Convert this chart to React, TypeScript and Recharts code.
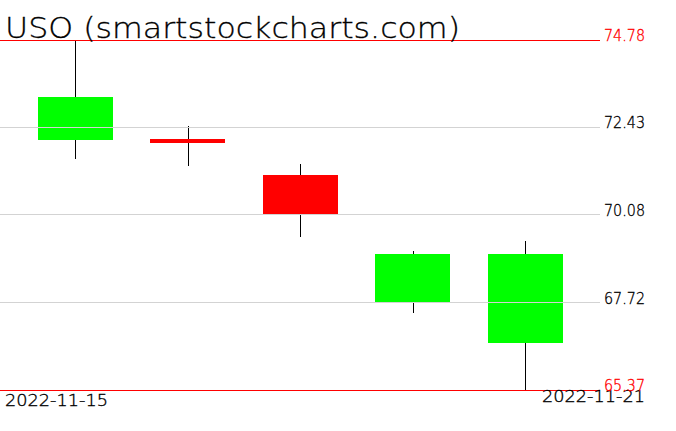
import React from 'react';
import { ComposedChart, Bar, XAxis, YAxis, CartesianGrid, ReferenceLine } from 'recharts';

const dates = ['2022-11-15', '2022-11-16', '2022-11-17', '2022-11-18', '2022-11-21'];
const openV = [72.1, 72.12, 71.15, 67.74, 66.64];
const closeV = [73.25, 72.02, 70.11, 69.03, 69.03];
const highV = [74.78, 72.47, 71.45, 69.11, 69.38];
const lowV = [71.59, 71.39, 69.49, 67.45, 65.37];
const yTicks = [65.37, 67.72, 70.08, 72.43, 74.78];
const yMin = 65.37;
const yMax = 74.78;
const xLabels = ['2022-11-15', '2022-11-21'];
const title = 'USO (smartstockcharts.com)';

const data = dates.map((d, i) => ({
  date: d,
  open: openV[i],
  close: closeV[i],
  high: highV[i],
  low: lowV[i],
  range: [lowV[i], highV[i]],
}));

const FONT = '"DejaVu Sans", sans-serif';

const Candle = (props: any) => {
  const { x, y, width, height, payload } = props;
  const { open, close, high, low } = payload;
  const h = Math.abs(height);
  const top = Math.min(y, y + height);
  const ppu = h / (high - low);
  const yOf = (v: number) => top + (high - v) * ppu;
  const cx = Math.round(x + width / 2) + 0.5;
  const up = close >= open;
  const bt = yOf(Math.max(open, close));
  const bb = yOf(Math.min(open, close));
  return (
    <g>
      <line x1={cx} x2={cx} y1={top} y2={top + h} stroke="#000" strokeWidth={1} shapeRendering="crispEdges" />
      <rect
        x={x}
        y={bt}
        width={width}
        height={Math.max(bb - bt, 1)}
        fill={up ? '#00ff00' : '#ff0000'}
        shapeRendering="crispEdges"
      />
    </g>
  );
};

const YTick = (props: any) => {
  const { x, y, payload } = props;
  const v = payload.value;
  const isEdge = v === yMin || v === yMax;
  const c = isEdge ? '#ff0000' : '#000';
  return (
    <text
      x={x + 4}
      y={y + 1}
      fill={c}
      stroke={c}
      strokeWidth={0.35}
      fontFamily={FONT}
      fontWeight={200}
      fontSize={16}
      textLength={41}
      lengthAdjust="spacingAndGlyphs"
      textAnchor="start"
    >
      {v.toFixed(2)}
    </text>
  );
};

const XTick = (props: any) => {
  const { x, y, payload } = props;
  const first = payload.value === xLabels[0];
  return (
    <text
      x={first ? x - 70 : x + 120}
      y={first ? y + 16 : y + 12}
      fill="#000"
      stroke="#000"
      strokeWidth={0.35}
      fontFamily={FONT}
      fontWeight={200}
      fontSize={16}
      textLength={103}
      lengthAdjust="spacingAndGlyphs"
      textAnchor={first ? 'start' : 'end'}
    >
      {payload.value}
    </text>
  );
};

export default function App() {
  return (
    <div style={{ position: 'absolute', left: 0, top: 0, width: 676, height: 431, background: '#fff' }}>
      <ComposedChart
        width={676}
        height={431}
        data={data}
        margin={{ top: 40, right: 0, bottom: 0, left: 0 }}
      >
        <CartesianGrid horizontal={false} vertical={false} />
        <XAxis
          dataKey="date"
          type="category"
          padding={{ left: 18.75, right: 18.75 }}
          ticks={xLabels}
          interval={0}
          axisLine={false}
          tickLine={false}
          tickSize={0}
          tickMargin={0}
          height={41}
          tick={<XTick />}
        />
        <YAxis
          orientation="right"
          domain={[yMin, yMax]}
          ticks={yTicks}
          allowDataOverflow
          axisLine={false}
          tickLine={false}
          tickSize={0}
          tickMargin={0}
          width={76}
          tick={<YTick />}
        />
        <Bar dataKey="range" barSize={75} shape={<Candle />} isAnimationActive={false} />
        {yTicks
          .filter((v) => v !== yMin && v !== yMax)
          .map((v) => (
            <ReferenceLine key={v} y={v} stroke="#d3d3d3" strokeWidth={1} shapeRendering="crispEdges" />
          ))}
        <ReferenceLine y={yMax} stroke="#ff0000" strokeWidth={1} shapeRendering="crispEdges" />
        <ReferenceLine y={yMin} stroke="#ff0000" strokeWidth={1} shapeRendering="crispEdges" />
      </ComposedChart>
      <svg width={676} height={50} style={{ position: 'absolute', left: 0, top: 0, pointerEvents: 'none' }}>
        <text
          x={5}
          y={38}
          fill="#000"
          stroke="#000"
          strokeWidth={0.3}
          fontFamily={FONT}
          fontWeight={200}
          fontSize={29}
          textLength={455}
          lengthAdjust="spacingAndGlyphs"
        >
          {title}
        </text>
      </svg>
    </div>
  );
}
